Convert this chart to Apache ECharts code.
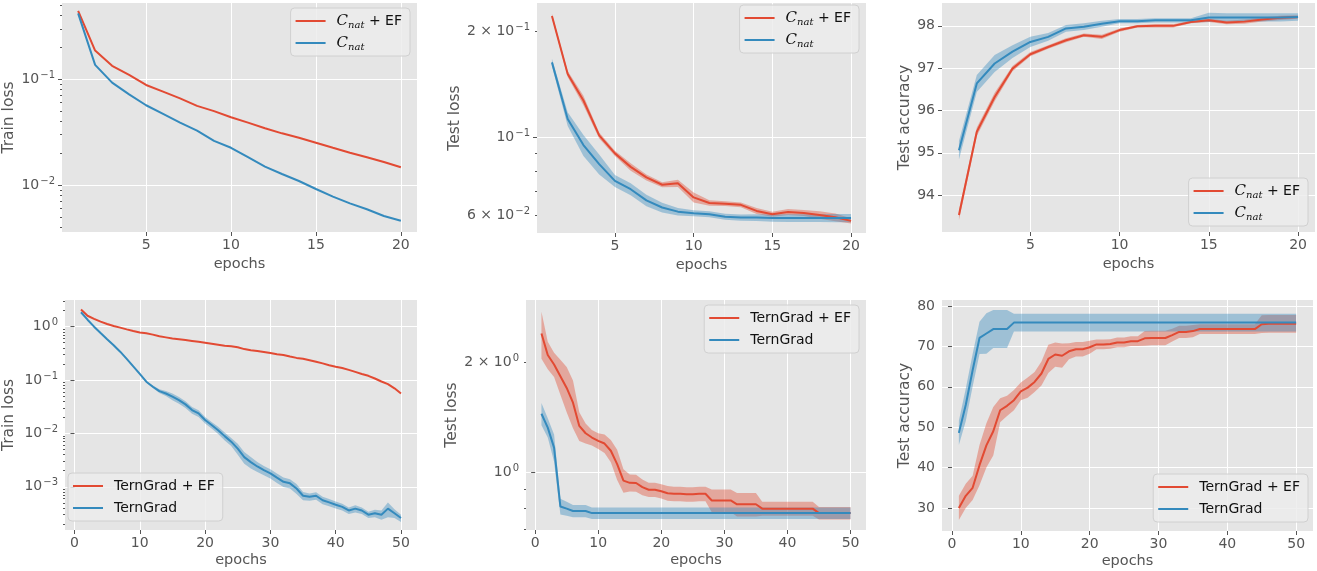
<!DOCTYPE html>
<html>
<head>
<meta charset="utf-8">
<script src="https://cdn.jsdelivr.net/npm/echarts@6/dist/echarts.min.js"></script>
<style>
  html, body { margin: 0; padding: 0; background: #fff; }
  #chart { width: 1317px; height: 571px; }
</style>
</head>
<body>
<div id="chart"></div>
<script>
// epochs
const epochs20 = Array.from({ length: 20 }, (_, i) => i + 1);
const epochs50 = Array.from({ length: 50 }, (_, i) => i + 1);

const namesNat = ['Cnat + EF', 'Cnat'];
const namesTern = ['TernGrad + EF', 'TernGrad'];

// top row (C_nat)
const trainLossNatEF = [0.444, 0.187, 0.134, 0.11, 0.0884, 0.0764, 0.066, 0.056, 0.050, 0.0437, 0.0389, 0.0344, 0.0308, 0.028, 0.0251, 0.0225, 0.0202, 0.0183, 0.0165, 0.0147];
const trainLossNat = [0.42, 0.137, 0.093, 0.072, 0.0568, 0.047, 0.0389, 0.0327, 0.0261, 0.0225, 0.0183, 0.0149, 0.0127, 0.0109, 0.00916, 0.00776, 0.0067, 0.00589, 0.00509, 0.00459];

const testLossNatEF = [0.221, 0.151, 0.127, 0.101, 0.0898, 0.0822, 0.0767, 0.0731, 0.0738, 0.0673, 0.0649, 0.0646, 0.0641, 0.0616, 0.0603, 0.0612, 0.0608, 0.06, 0.0591, 0.0577];
const testLossNatEFSd = [0.003, 0.003, 0.004, 0.002, 0.0015, 0.002, 0.0015, 0.0012, 0.0018, 0.0022, 0.0012, 0.001, 0.001, 0.0012, 0.001, 0.0012, 0.0012, 0.0015, 0.0015, 0.001];
const testLossNat = [0.163, 0.1125, 0.0948, 0.0837, 0.075, 0.071, 0.066, 0.063, 0.0613, 0.0607, 0.0603, 0.0593, 0.059, 0.059, 0.0588, 0.0588, 0.0588, 0.0588, 0.0588, 0.0588];
const testLossNatSd = [0.004, 0.005, 0.0065, 0.0055, 0.003, 0.0028, 0.0025, 0.002, 0.0015, 0.0012, 0.0012, 0.0012, 0.0012, 0.0013, 0.0014, 0.0015, 0.0015, 0.0015, 0.0016, 0.0016];

const testAccNatEF = [93.53, 95.5, 96.32, 96.99, 97.33, 97.5, 97.66, 97.78, 97.74, 97.9, 97.99, 98.0, 98.0, 98.09, 98.13, 98.08, 98.1, 98.15, 98.19, 98.21];
const testAccNatEFSd = [0.12, 0.1, 0.1, 0.06, 0.05, 0.04, 0.05, 0.04, 0.05, 0.04, 0.03, 0.04, 0.04, 0.03, 0.04, 0.04, 0.05, 0.05, 0.05, 0.04];
const testAccNat = [95.06, 96.64, 97.11, 97.39, 97.62, 97.74, 97.94, 97.98, 98.05, 98.11, 98.11, 98.13, 98.13, 98.13, 98.2, 98.2, 98.2, 98.2, 98.2, 98.21];
const testAccNatSd = [0.22, 0.2, 0.2, 0.15, 0.12, 0.09, 0.08, 0.08, 0.07, 0.05, 0.05, 0.05, 0.05, 0.05, 0.11, 0.1, 0.1, 0.1, 0.1, 0.09];

// bottom row (TernGrad)
const trainLossTernEF = [2.1, 1.6, 1.4, 1.24, 1.12, 1.03, 0.96, 0.89, 0.83, 0.78, 0.75, 0.71, 0.66, 0.63, 0.6, 0.58, 0.56, 0.54, 0.52, 0.5,
  0.48, 0.46, 0.44, 0.43, 0.41, 0.38, 0.36, 0.35, 0.335, 0.32, 0.305, 0.295, 0.275, 0.26, 0.25, 0.235, 0.22, 0.205, 0.19, 0.178,
  0.168, 0.155, 0.142, 0.13, 0.12, 0.107, 0.094, 0.084, 0.07, 0.056];
const trainLossTern = [1.86, 1.35, 1.0, 0.76, 0.58, 0.45, 0.34, 0.25, 0.18, 0.13, 0.093, 0.075, 0.062, 0.056, 0.049, 0.042, 0.035, 0.0274, 0.0237, 0.0178,
  0.0144, 0.0115, 0.0089, 0.007, 0.0052, 0.0036, 0.0029, 0.0024, 0.00205, 0.00178, 0.00148, 0.00124, 0.00116, 0.00093, 0.00068, 0.00065, 0.00068, 0.00056, 0.00051, 0.00046,
  0.00042, 0.00036, 0.00039, 0.00036, 0.0003, 0.00032, 0.0003, 0.00039, 0.00032, 0.00026];
const trainLossTernSd = [0.03, 0.02, 0.015, 0.012, 0.01, 0.008, 0.006, 0.005, 0.004, 0.003, 0.003, 0.004, 0.005, 0.006, 0.007, 0.006, 0.005, 0.004, 0.0035, 0.0025,
  0.002, 0.0018, 0.0015, 0.0012, 0.0012, 0.0009, 0.0007, 0.0005, 0.0004, 0.00035, 0.0003, 0.00025, 0.00023, 0.0002, 0.00012, 0.0001, 0.00011, 0.00009, 0.00008, 0.00007,
  0.00006, 0.00005, 0.00006, 0.00005, 0.00004, 0.00005, 0.00006, 0.00012, 0.00006, 0.00004];

const testLossTernEF = [2.39, 2.09, 1.97, 1.83, 1.7, 1.55, 1.34, 1.28, 1.246, 1.22, 1.2, 1.147, 1.055, 0.951, 0.938, 0.937, 0.913, 0.898, 0.898, 0.89,
  0.879, 0.876, 0.876, 0.873, 0.873, 0.876, 0.876, 0.84, 0.84, 0.84, 0.84, 0.82, 0.82, 0.82, 0.82, 0.798, 0.798, 0.798, 0.798, 0.798,
  0.798, 0.798, 0.798, 0.798, 0.776, 0.776, 0.776, 0.776, 0.776, 0.776];
const testLossTernEFSd = [0.35, 0.18, 0.15, 0.2, 0.24, 0.23, 0.12, 0.08, 0.06, 0.06, 0.07, 0.08, 0.1, 0.07, 0.05, 0.05, 0.045, 0.04, 0.04, 0.04,
  0.04, 0.04, 0.04, 0.04, 0.04, 0.04, 0.04, 0.06, 0.06, 0.06, 0.06, 0.06, 0.06, 0.06, 0.06, 0.035, 0.035, 0.035, 0.035, 0.035,
  0.035, 0.035, 0.035, 0.035, 0.03, 0.03, 0.03, 0.03, 0.03, 0.03];
const testLossTern = [1.446, 1.326, 1.17, 0.809, 0.798, 0.786, 0.786, 0.786, 0.776, 0.776, 0.776, 0.776, 0.776, 0.776, 0.776, 0.776, 0.776, 0.776, 0.776, 0.776,
  0.776, 0.776, 0.776, 0.776, 0.776, 0.776, 0.776, 0.776, 0.776, 0.776, 0.776, 0.776, 0.776, 0.776, 0.776, 0.776, 0.776, 0.776, 0.776, 0.776,
  0.776, 0.776, 0.776, 0.776, 0.776, 0.776, 0.776, 0.776, 0.776, 0.776];
const testLossTernSd = [0.1, 0.08, 0.1, 0.04, 0.035, 0.03, 0.03, 0.03, 0.028, 0.028, 0.028, 0.028, 0.028, 0.028, 0.028, 0.028, 0.028, 0.028, 0.028, 0.028,
  0.028, 0.028, 0.028, 0.028, 0.028, 0.028, 0.028, 0.028, 0.028, 0.028, 0.028, 0.028, 0.028, 0.028, 0.028, 0.028, 0.028, 0.028, 0.028, 0.028,
  0.028, 0.028, 0.028, 0.028, 0.028, 0.028, 0.028, 0.028, 0.028, 0.028];

const testAccTernEF = [30, 33, 35, 40.6, 45.5, 49, 54.2, 55.3, 56.7, 58.9, 59.8, 61.2, 63.3, 66.9, 68, 67.7, 68.8, 69.3, 69.3, 69.8,
  70.5, 70.5, 70.6, 71, 71, 71.3, 71.3, 72, 72.1, 72.1, 72.1, 72.8, 73.6, 73.6, 73.8, 74.3, 74.3, 74.3, 74.3, 74.3,
  74.3, 74.3, 74.3, 74.3, 75.5, 75.6, 75.6, 75.6, 75.6, 75.6];
const testAccTernEFSd = [3, 3, 3, 5, 5.5, 6, 3, 2.5, 2.5, 2.2, 2.5, 2.5, 3, 3.5, 3, 3, 2, 1.8, 1.8, 1.6,
  1.2, 1.2, 1.2, 1.2, 1.2, 1.2, 1.2, 1.8, 1.8, 1.8, 1.8, 1.6, 1.5, 1.5, 1.5, 1.2, 1.2, 1.2, 1.2, 1.2,
  1.2, 1.2, 1.2, 1.2, 2.2, 2.2, 2.2, 2.2, 2.2, 2.2];
const testAccTern = [48.6, 55.5, 64.1, 72.1, 73.2, 74.3, 74.3, 74.3, 75.9, 75.9, 75.9, 75.9, 75.9, 75.9, 75.9, 75.9, 75.9, 75.9, 75.9, 75.9,
  75.9, 75.9, 75.9, 75.9, 75.9, 75.9, 75.9, 75.9, 75.9, 75.9, 75.9, 75.9, 75.9, 75.9, 75.9, 75.9, 75.9, 75.9, 75.9, 75.9,
  75.9, 75.9, 75.9, 75.9, 75.9, 75.9, 75.9, 75.9, 75.9, 75.9];
const testAccTernSd = [3, 4, 4, 4, 5, 4.7, 4.7, 4.7, 2.2, 2.2, 2.2, 2.2, 2.2, 2.2, 2.2, 2.2, 2.2, 2.2, 2.2, 2.2,
  2.2, 2.2, 2.2, 2.2, 2.2, 2.2, 2.2, 2.2, 2.2, 2.2, 2.2, 2.2, 2.2, 2.2, 2.2, 2.2, 2.2, 2.2, 2.2, 2.2,
  2.2, 2.2, 2.2, 2.2, 2.2, 2.2, 2.2, 2.2, 2.2, 2.2];

// tick labels
const xTicks20 = [5, 10, 15, 20];
const xTicks50 = [0, 10, 20, 30, 40, 50];
const accTicksNat = [94, 95, 96, 97, 98];
const accTicksTern = [30, 40, 50, 60, 70, 80];

const RED = '#E24A33';
const BLUE = '#348ABD';
const RED_BAND = 'rgba(226,74,51,0.4)';
const BLUE_BAND = 'rgba(52,138,189,0.4)';
const GRAY = '#555555';
const FONT = 'DejaVu Sans';

function logLabel(v) {
  const e = Math.floor(Math.log10(v) + 1e-9);
  const m = Math.round(v / Math.pow(10, e));
  const exp = String(e).replace('-', '\u2212');
  return (m === 1 ? '' : m + ' \u00D7 ') + '10{e|' + exp + '}';
}
function minorTicks(min, max) {
  const out = [];
  for (let e = Math.floor(Math.log10(min)); e <= Math.ceil(Math.log10(max)); e++) {
    for (let m = 2; m <= 9; m++) {
      const v = +(m * Math.pow(10, e)).toPrecision(6);
      if (v >= min && v <= max) out.push(v);
    }
  }
  return out;
}
const pairs = (xs, ys) => xs.map((x, i) => [x, ys[i]]);

const panels = [
  { grid: { left: 61, top: 3, width: 356, height: 229 }, x: [0.05, 20.95], xTicks: xTicks20, epochs: epochs20,
    log: true, y: [0.00359, 0.527], yMajor: [0.01, 0.1], yLabels: [0.01, 0.1], yName: 'Train loss', yGap: 45,
    legend: { right: 907, top: 8 }, names: namesNat, lines: [trainLossNatEF, trainLossNat], sds: [null, null] },
  { grid: { left: 537, top: 3, width: 329, height: 230 }, x: [0.05, 20.95], xTicks: xTicks20, epochs: epochs20,
    log: true, y: [0.0533, 0.2405], yMajor: [0.1], yLabels: [0.06, 0.1, 0.2], yName: 'Test loss', yGap: 74,
    legend: { right: 458, top: 5 }, names: namesNat, lines: [testLossNatEF, testLossNat], sds: [testLossNatEFSd, testLossNatSd] },
  { grid: { left: 942, top: 3, width: 373, height: 229 }, x: [0.05, 20.95], xTicks: xTicks20, epochs: epochs20,
    log: false, y: [93.13, 98.54], yMajor: accTicksNat, yLabels: accTicksNat, yName: 'Test accuracy', yGap: 29,
    legend: { right: 9, top: 178 }, names: namesNat, lines: [testAccNatEF, testAccNat], sds: [testAccNatEFSd, testAccNatSd] },
  { grid: { left: 62, top: 300, width: 355, height: 230 }, x: [-1.45, 52.45], xTicks: xTicks50, epochs: epochs50,
    log: true, y: [0.000155, 3.16], yMajor: [0.001, 0.01, 0.1, 1], yLabels: [0.001, 0.01, 0.1, 1], yName: 'Train loss', yGap: 48,
    legend: { left: 68, top: 473 }, names: namesTern, lines: [trainLossTernEF, trainLossTern], sds: [null, trainLossTernSd] },
  { grid: { left: 526, top: 300, width: 340, height: 230 }, x: [-1.45, 52.45], xTicks: xTicks50, epochs: epochs50,
    log: true, y: [0.698, 2.95], yMajor: [1], yLabels: [1, 2], yName: 'Test loss', yGap: 63,
    legend: { right: 458, top: 305 }, names: namesTern, lines: [testLossTernEF, testLossTern], sds: [testLossTernEFSd, testLossTernSd] },
  { grid: { left: 942, top: 300, width: 371, height: 231 }, x: [-1.45, 52.45], xTicks: xTicks50, epochs: epochs50,
    log: false, y: [24.3, 81.5], yMajor: accTicksTern, yLabels: accTicksTern, yName: 'Test accuracy', yGap: 29,
    legend: { right: 9, top: 474 }, names: namesTern, lines: [testAccTernEF, testAccTern], sds: [testAccTernEFSd, testAccTernSd] }
];

const grids = [], xAxes = [], yAxes = [], legends = [], series = [];
const tickStyle = { show: true, length: 4, lineStyle: { color: GRAY, width: 1 } };
const labelStyle = { color: GRAY, fontSize: 14, fontFamily: FONT };

panels.forEach((p, k) => {
  grids.push(Object.assign({ show: true, backgroundColor: '#E5E5E5', borderWidth: 0 }, p.grid));
  xAxes.push({
    type: 'value', gridIndex: k, min: p.x[0], max: p.x[1],
    name: 'epochs', nameLocation: 'middle', nameGap: k < 3 ? 25 : 23,
    nameTextStyle: { color: GRAY, fontSize: 14.5, fontFamily: FONT },
    axisLine: { show: false },
    axisTick: Object.assign({ customValues: p.xTicks }, tickStyle),
    axisLabel: Object.assign({ customValues: p.xTicks, margin: 6, showMinLabel: true, showMaxLabel: true }, labelStyle),
    splitLine: { show: true, lineStyle: { color: '#FFFFFF', width: 1 } }
  });
  const yi = yAxes.length;
  yAxes.push({
    type: p.log ? 'log' : 'value', logBase: 10, gridIndex: k, position: 'left', min: p.y[0], max: p.y[1],
    name: p.yName, nameLocation: 'middle', nameGap: p.yGap,
    nameTextStyle: { color: GRAY, fontSize: 15.5, fontFamily: FONT },
    axisLine: { show: false },
    axisTick: Object.assign({ customValues: p.yMajor }, tickStyle),
    axisLabel: Object.assign({
      customValues: p.yLabels, margin: 7, formatter: p.log ? logLabel : '{value}', lineHeight: 18,
      rich: { e: { fontSize: 10, color: GRAY, fontFamily: FONT, lineHeight: 12, verticalAlign: 'top', padding: [0, 0, 0, 1] } }
    }, labelStyle),
    splitLine: { show: true, lineStyle: { color: '#FFFFFF', width: 1 } }
  });
  if (p.log) {
    // minor ticks of the log axis
    yAxes.push({
      type: 'log', logBase: 10, gridIndex: k, position: 'left', offset: 0, min: p.y[0], max: p.y[1],
      axisLine: { show: false }, axisLabel: { show: false }, splitLine: { show: false },
      axisTick: { show: true, length: 2, customValues: minorTicks(p.y[0], p.y[1]), lineStyle: { color: GRAY, width: 1 } }
    });
  }
  legends.push(Object.assign({
    orient: 'vertical', data: p.names, icon: 'rect', itemWidth: 30, itemHeight: 2, itemGap: 4,
    padding: [4, 8, 4, 5], backgroundColor: 'rgba(236,236,236,0.85)', borderColor: '#D0D0D0', borderWidth: 1, borderRadius: 4,
    formatter: n => n.replace('Cnat', '{c|C}{s|nat}'),
    textStyle: {
      color: '#111', fontSize: 14, fontFamily: FONT, lineHeight: 18, padding: [0, 0, 0, 6],
      rich: {
        c: { fontFamily: 'DejaVu Serif', fontStyle: 'italic', fontSize: 15, color: '#111', lineHeight: 18 },
        s: { fontFamily: 'DejaVu Serif', fontStyle: 'italic', fontSize: 10, color: '#111', lineHeight: 10, verticalAlign: 'bottom' }
      }
    }
  }, p.legend));

  const colors = [RED, BLUE], bands = [RED_BAND, BLUE_BAND];
  p.lines.forEach((vals, j) => {
    const sd = p.sds[j];
    if (sd) {
      const xs = p.epochs;
      series.push({
        type: 'custom', name: 'band' + k + j, xAxisIndex: k, yAxisIndex: yi, silent: true,
        data: xs.map((x, i) => [x, vals[i] - sd[i], vals[i] + sd[i]]),
        encode: { x: 0, y: [1, 2] },
        renderItem: function (params, api) {
          if (params.dataIndex !== 0) return null;
          const up = xs.map((x, i) => api.coord([x, vals[i] + sd[i]]));
          const lo = xs.map((x, i) => api.coord([x, vals[i] - sd[i]])).reverse();
          return { type: 'polygon', shape: { points: up.concat(lo) }, style: { fill: bands[j] } };
        }
      });
    }
    series.push({
      type: 'line', name: p.names[j], xAxisIndex: k, yAxisIndex: yi,
      data: pairs(p.epochs, vals), symbol: 'none', showSymbol: false, silent: true,
      color: colors[j], lineStyle: { color: colors[j], width: 2 }
    });
  });
});

const chart = echarts.init(document.getElementById('chart'), null, { renderer: 'canvas' });
chart.setOption({
  animation: false,
  textStyle: { fontFamily: FONT },
  grid: grids, xAxis: xAxes, yAxis: yAxes, legend: legends, series: series
});
</script>
</body>
</html>
